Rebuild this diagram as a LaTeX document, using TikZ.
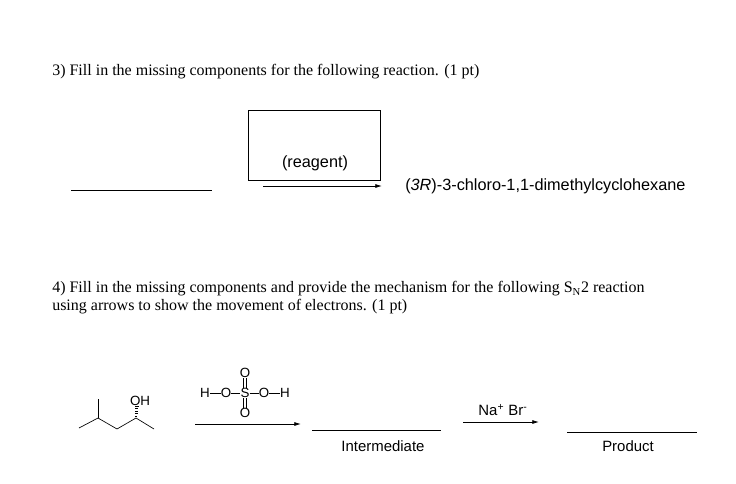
\documentclass[tikz,border=0pt]{standalone}
\usepackage{fontspec}
\usetikzlibrary{arrows.meta,calc}
\setmainfont{Liberation Serif}
\newfontfamily\chem{Liberation Sans}
\begin{document}
\begin{tikzpicture}[x=0.75pt,y=-0.75pt,
  q/.style={anchor=west,inner sep=0,font=\fontsize{12}{14}\selectfont},
  c/.style={inner sep=0,font=\chem\fontsize{12.2}{14}\selectfont},
  a/.style={inner sep=0,font=\chem\fontsize{10}{12}\selectfont},
  lab/.style={inner sep=0,font=\chem\fontsize{11.2}{13}\selectfont},
  bond/.style={line width=0.5pt},
  arr/.style={line width=0.6pt,-{Latex[length=5pt,width=3pt]}}]
\useasboundingbox (0,0) rectangle (736,483);
\node[q] (t3) at (52,72) {3) Fill in the missing components for the following reaction. (1 pt)};
\node[draw,line width=0.6pt,minimum width=99pt,minimum height=52pt,inner sep=0] (box) at (314,145.5) {};
\node[c] (reag) at (315,163) {(reagent)};
\coordinate (l1a) at (71,190); \coordinate (l1b) at (212,190);
\draw[line width=0.6pt] (l1a) -- (l1b);
\coordinate (a1a) at (263,186); \coordinate (a1b) at (382,186);
\draw[arr] (a1a) -- (a1b);
\node[c,anchor=west] (prod1) at (405,186) {(\textit{3R})-3-chloro-1,1-dimethylcyclohexane};
\node[q] (t4a) at (52,289) {4) Fill in the missing components and provide the mechanism for the following S\textsubscript{N}2 reaction};
\node[q] (t4b) at (52,307) {using arrows to show the movement of electrons. (1 pt)};
% molecule
\coordinate (m1) at (79,428); \coordinate (m2) at (98,418); \coordinate (m3) at (98,399);
\coordinate (m4) at (117,429); \coordinate (m5) at (136,418); \coordinate (m6) at (154,429);
\draw[bond] (m1)--(m2)--(m4)--(m5)--(m6); \draw[bond] (m2)--(m3);
\node[a] (oh) at (140,401) {OH};
\foreach \i in {0,...,4}{\draw[line width=0.5pt] ($(m5)+(-1.2+\i*0.1,-2-\i*2.5)$) -- ($(m5)+(1.2+\i*0.4,-2-\i*2.5)$);}
% acid
\node[a] (s) at (245,393) {S};
\node[a] (o1) at (226,393) {O}; \node[a] (o2) at (264,393) {O};
\node[a] (h1) at (205,393) {H}; \node[a] (h2) at (285,393) {H};
\node[a] (ot) at (245,373) {O}; \node[a] (ob) at (245,413) {O};
\draw[bond] (h1.east)--(o1.west) (o1.east)--(s.west) (s.east)--(o2.west) (o2.east)--(h2.west);
\draw[bond] ([xshift=-1.2pt]ot.south)--([xshift=-1.2pt]s.north) ([xshift=1.2pt]ot.south)--([xshift=1.2pt]s.north);
\draw[bond] ([xshift=-1.2pt]s.south)--([xshift=-1.2pt]ob.north) ([xshift=1.2pt]s.south)--([xshift=1.2pt]ob.north);
\coordinate (a2a) at (195,424); \coordinate (a2b) at (301,424);
\draw[arr] (a2a) -- (a2b);
\coordinate (l2a) at (312,430); \coordinate (l2b) at (441,430);
\draw[line width=0.6pt] (l2a) -- (l2b);
\node[lab] (int) at (383,446) {Intermediate};
\node[lab] (nabr) at (503,410) {Na\textsuperscript{+} Br\textsuperscript{-}};
\coordinate (a3a) at (463,422); \coordinate (a3b) at (539,422);
\draw[arr] (a3a) -- (a3b);
\coordinate (l3a) at (567,432); \coordinate (l3b) at (697,432);
\draw[line width=0.6pt] (l3a) -- (l3b);
\node[lab] (prod) at (628,446) {Product};
\end{tikzpicture}
\end{document}
